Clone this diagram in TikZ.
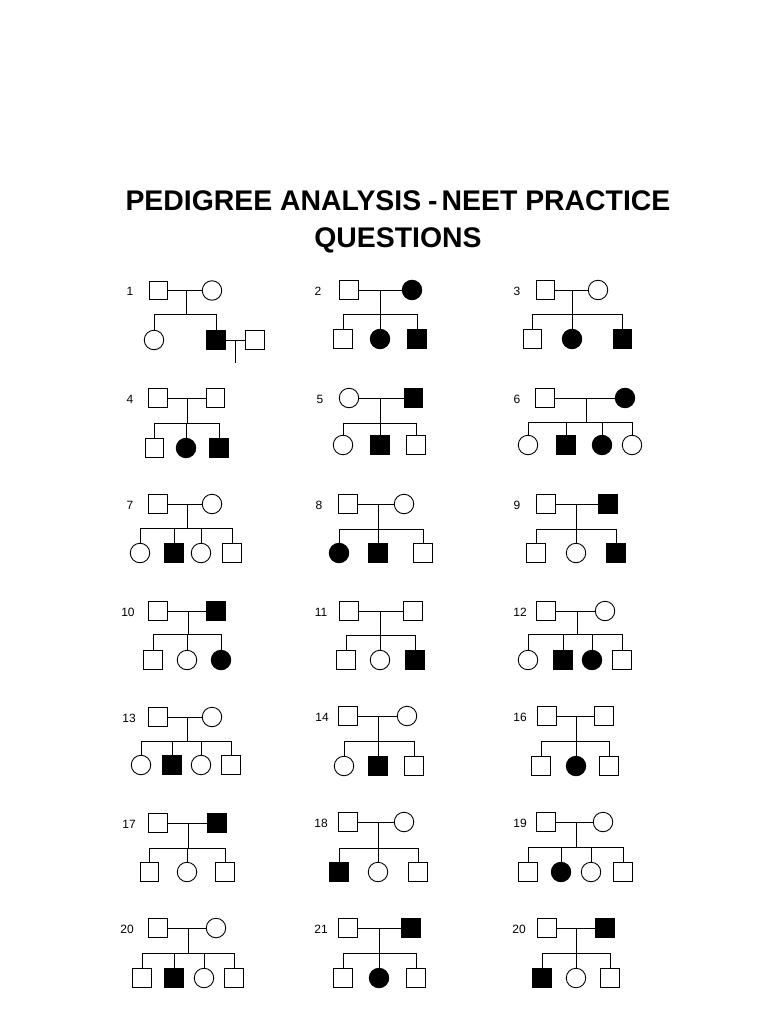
\documentclass[tikz,border=0pt]{standalone}
\usepackage{fontspec}
\newfontfamily\titlefont{Liberation Sans}
\newfontfamily\lblfont{Liberation Sans}
\tikzset{
  sqm/.style={draw=black, rectangle, line width=0.9pt, minimum size=18.5pt, inner sep=0pt, fill=white},
  sqa/.style={sqm, fill=black},
  ci/.style={draw=black, circle, line width=0.9pt, minimum size=19.5pt, inner sep=0pt, fill=white},
  cia/.style={ci, fill=black},
  conn/.style={draw=black, line width=0.9pt},
  numlbl/.style={inner sep=0pt, font=\lblfont\fontsize{12}{14}\selectfont},
  titletext/.style={inner sep=0pt, anchor=base, font=\titlefont\bfseries\fontsize{28.4}{34}\selectfont}
}
% #1 id, #2 label, #3 label x, #4 left style, #5 left x, #6 right style, #7 right x, #8 y, #9 drop x
\newcommand\pedpar[9]{%
  \node[numlbl] (#1lab) at (#3,#8+1) {#2};
  \node[#4] (#1a) at (#5,#8) {};
  \node[#6] (#1b) at (#7,#8) {};
  \draw[conn] (#1a) -- (#1b);
  \coordinate (#1j) at (#9,#8);
}
% #1 id, #2 drop x, #3 sibship y
\newcommand\pedsib[3]{%
  \coordinate (#1s) at (#2,#3);
  \draw[conn] (#1j) -- (#1s);
}
% #1 id, #2 n, #3 style, #4 x, #5 y
\newcommand\pedkid[5]{%
  \node[#3] (#1k#2) at (#4,#5) {};
  \draw[conn] (#1k#2.north |- #1s) -- (#1k#2.north);
}
% #1 id, #2 last kid
\newcommand\pedline[2]{%
  \draw[conn] (#1k1.north |- #1s) -- (#1k#2.north |- #1s);
}
\begin{document}
\begin{tikzpicture}[x=1pt,y=-1pt]
\useasboundingbox[fill=white] (0,0) rectangle (768,1024);

\node[titletext] (title1) at (398,210.5) {PEDIGREE ANALYSIS\kern7pt-\kern4pt NEET PRACTICE};
\node[titletext] (title2) at (398,247.5) {QUESTIONS};

% 1
\pedpar{pa}{1}{130}{sqm}{158.5}{ci}{212}{290.5}{186}
\pedsib{pa}{186}{314}
\pedkid{pa}{1}{ci}{154}{340}
\pedkid{pa}{2}{sqa}{216}{340}
\pedline{pa}{2}
\node[sqm] (pasp) at (255,340) {};
\draw[conn] (pak2) -- (pasp);
\coordinate (pasj) at (235,340);
\coordinate (pase) at (235,363);
\draw[conn] (pasj) -- (pase);

% 2
\pedpar{pb}{2}{318}{sqm}{349}{cia}{412}{290}{380}
\pedsib{pb}{380}{314}
\pedkid{pb}{1}{sqm}{343}{339}
\pedkid{pb}{2}{cia}{380}{339}
\pedkid{pb}{3}{sqa}{417}{339}
\pedline{pb}{3}

% 3
\pedpar{pc}{3}{517}{sqm}{545.5}{ci}{598}{290}{572}
\pedsib{pc}{572}{314}
\pedkid{pc}{1}{sqm}{532.5}{339}
\pedkid{pc}{2}{cia}{572}{339}
\pedkid{pc}{3}{sqa}{622.5}{339}
\pedline{pc}{3}

% 4
\pedpar{pd}{4}{130}{sqm}{158}{sqm}{215.5}{398}{187}
\pedsib{pd}{187}{423}
\pedkid{pd}{1}{sqm}{154.5}{448}
\pedkid{pd}{2}{cia}{186}{448}
\pedkid{pd}{3}{sqa}{219}{448}
\pedline{pd}{3}

% 5
\pedpar{pe}{5}{320}{ci}{349}{sqa}{413.5}{398}{380}
\pedsib{pe}{380}{423}
\pedkid{pe}{1}{ci}{343}{445}
\pedkid{pe}{2}{sqa}{380}{445}
\pedkid{pe}{3}{sqm}{416}{445}
\pedline{pe}{3}

% 6
\pedpar{pf}{6}{517}{sqm}{545}{cia}{625}{398}{586}
\pedsib{pf}{586}{422}
\pedkid{pf}{1}{ci}{528}{445}
\pedkid{pf}{2}{sqa}{566}{445}
\pedkid{pf}{3}{cia}{602}{445}
\pedkid{pf}{4}{ci}{632}{445}
\pedline{pf}{4}

% 7
\pedpar{pg}{7}{130}{sqm}{158}{ci}{212}{504}{187}
\pedsib{pg}{187}{528}
\pedkid{pg}{1}{ci}{140}{553}
\pedkid{pg}{2}{sqa}{174}{553}
\pedkid{pg}{3}{ci}{201}{553}
\pedkid{pg}{4}{sqm}{232}{553}
\pedline{pg}{4}

% 8
\pedpar{ph}{8}{319}{sqm}{348}{ci}{404}{504}{378}
\pedsib{ph}{378}{529}
\pedkid{ph}{1}{cia}{339}{553}
\pedkid{ph}{2}{sqa}{378}{553}
\pedkid{ph}{3}{sqm}{423}{553}
\pedline{ph}{3}

% 9
\pedpar{pi}{9}{517}{sqm}{546}{sqa}{608}{504}{576}
\pedsib{pi}{576}{529}
\pedkid{pi}{1}{sqm}{536}{553}
\pedkid{pi}{2}{ci}{576}{553}
\pedkid{pi}{3}{sqa}{616}{553}
\pedline{pi}{3}

% 10
\pedpar{pj}{10}{128}{sqm}{158}{sqa}{216}{611}{188}
\pedsib{pj}{188}{634}
\pedkid{pj}{1}{sqm}{153}{660}
\pedkid{pj}{2}{ci}{187}{660}
\pedkid{pj}{3}{cia}{221}{660}
\pedline{pj}{3}

% 11
\pedpar{pk}{11}{321}{sqm}{349}{sqm}{413}{611}{380}
\pedsib{pk}{380}{635}
\pedkid{pk}{1}{sqm}{346}{660}
\pedkid{pk}{2}{ci}{380}{660}
\pedkid{pk}{3}{sqa}{415}{660}
\pedline{pk}{3}

% 12
\pedpar{pl}{12}{520}{sqm}{546}{ci}{605}{611}{577}
\pedsib{pl}{577}{634}
\pedkid{pl}{1}{ci}{528}{660}
\pedkid{pl}{2}{sqa}{563}{660}
\pedkid{pl}{3}{cia}{592}{660}
\pedkid{pl}{4}{sqm}{622}{660}
\pedline{pl}{4}

% 13
\pedpar{pm}{13}{129}{sqm}{158}{ci}{212}{717}{187}
\pedsib{pm}{187}{741}
\pedkid{pm}{1}{ci}{141}{765}
\pedkid{pm}{2}{sqa}{172}{765}
\pedkid{pm}{3}{ci}{201}{765}
\pedkid{pm}{4}{sqm}{231}{765}
\pedline{pm}{4}

% 14
\pedpar{pn}{14}{322}{sqm}{348}{ci}{407}{716}{378}
\pedsib{pn}{378}{741}
\pedkid{pn}{1}{ci}{344}{766}
\pedkid{pn}{2}{sqa}{378}{766}
\pedkid{pn}{3}{sqm}{414}{766}
\pedline{pn}{3}

% 16
\pedpar{po}{16}{520}{sqm}{547}{sqm}{604}{716}{576}
\pedsib{po}{576}{741}
\pedkid{po}{1}{sqm}{541}{766}
\pedkid{po}{2}{cia}{576}{766}
\pedkid{po}{3}{sqm}{609}{766}
\pedline{po}{3}

% 17
\pedpar{pp}{17}{129}{sqm}{158}{sqa}{217}{823}{188}
\pedsib{pp}{188}{848}
\pedkid{pp}{1}{sqm}{149.5}{872}
\pedkid{pp}{2}{ci}{187}{872}
\pedkid{pp}{3}{sqm}{225}{872}
\pedline{pp}{3}

% 18
\pedpar{pq}{18}{321}{sqm}{348}{ci}{404}{822}{378}
\pedsib{pq}{378}{848}
\pedkid{pq}{1}{sqa}{339}{872}
\pedkid{pq}{2}{ci}{378}{872}
\pedkid{pq}{3}{sqm}{418}{872}
\pedline{pq}{3}

% 19
\pedpar{pr}{19}{520}{sqm}{546}{ci}{603}{822}{576}
\pedsib{pr}{576}{847}
\pedkid{pr}{1}{sqm}{528}{872}
\pedkid{pr}{2}{cia}{561}{872}
\pedkid{pr}{3}{ci}{591}{872}
\pedkid{pr}{4}{sqm}{623}{872}
\pedline{pr}{4}

% 20 (left)
\pedpar{ps}{20}{127}{sqm}{158}{ci}{216}{928}{188}
\pedsib{ps}{188}{953}
\pedkid{ps}{1}{sqm}{142}{978}
\pedkid{ps}{2}{sqa}{174}{978}
\pedkid{ps}{3}{ci}{204}{978}
\pedkid{ps}{4}{sqm}{234}{978}
\pedline{ps}{4}

% 21
\pedpar{pt}{21}{321}{sqm}{348}{sqa}{411}{928}{379}
\pedsib{pt}{379}{953}
\pedkid{pt}{1}{sqm}{343}{978}
\pedkid{pt}{2}{cia}{379}{978}
\pedkid{pt}{3}{sqm}{416}{978}
\pedline{pt}{3}

% 20 (right)
\pedpar{pu}{20}{519}{sqm}{547}{sqa}{605}{928}{576}
\pedsib{pu}{576}{953}
\pedkid{pu}{1}{sqa}{542}{978}
\pedkid{pu}{2}{ci}{576}{978}
\pedkid{pu}{3}{sqm}{610}{978}
\pedline{pu}{3}

\end{tikzpicture}
\end{document}
